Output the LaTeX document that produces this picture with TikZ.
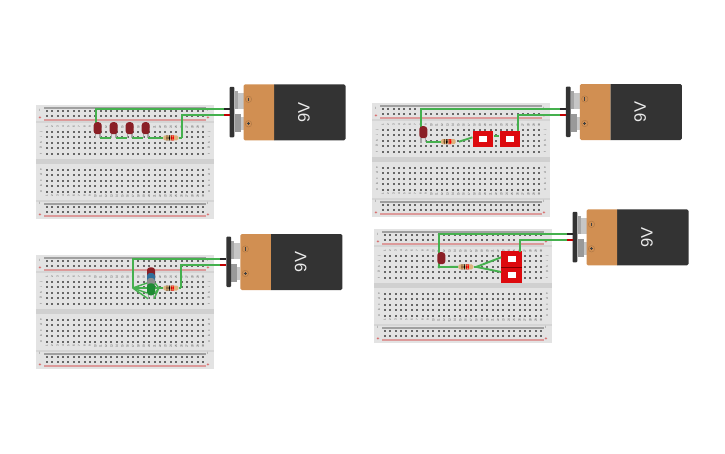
\documentclass[tikz,border=0pt]{standalone}
\usepackage{fontspec}
\setmainfont{Liberation Sans}
\definecolor{boardgrey}{HTML}{E3E3E3}
\definecolor{bandgrey}{HTML}{D0D0D0}
\definecolor{holegrey}{HTML}{666666}
\definecolor{railgrey}{HTML}{A0A0A0}
\definecolor{railred}{HTML}{DC9A9A}
\definecolor{wiregreen}{HTML}{45B04E}
\definecolor{ledred}{HTML}{8A1F26}
\definecolor{ledblue}{HTML}{2F6E9A}
\definecolor{ledgrey}{HTML}{8C8C8C}
\definecolor{ledgreen}{HTML}{1E8A32}
\definecolor{battorange}{HTML}{D18F52}
\definecolor{battdark}{HTML}{333333}
\definecolor{resbody}{HTML}{DDB27C}
\definecolor{dipred}{HTML}{DD0A0E}
\tikzset{
  wire/.style={draw=wiregreen,line width=1.9pt},
  thinwire/.style={draw=wiregreen,line width=1.4pt},
  leg/.style={draw=gray!70,line width=1.2pt},
  led/.style={rectangle,rounded corners=3pt,minimum width=8pt,minimum height=12pt,inner sep=0pt,fill=#1},
  resistor/.style={rectangle,rounded corners=1.5pt,minimum width=15pt,minimum height=5pt,inner sep=0pt,fill=resbody,
    path picture={
      \fill[brown!60!black] ([xshift=3pt]path picture bounding box.south west) rectangle +(1.4pt,5pt);
      \fill[black] ([xshift=5.4pt]path picture bounding box.south west) rectangle +(1.4pt,5pt);
      \fill[red!80!black] ([xshift=7.8pt]path picture bounding box.south west) rectangle +(1.2pt,5pt);
      \fill[red] ([xshift=9.2pt]path picture bounding box.south west) rectangle +(1.4pt,5pt);
    }},
  dip/.style={rectangle,minimum width=20.6pt,minimum height=16pt,inner sep=0pt,fill=dipred},
  dipwin/.style={rectangle,minimum width=8.5pt,minimum height=6pt,inner sep=0pt,fill=white},
  tinylabel/.style={inner sep=0pt,font=\fontsize{3}{3}\selectfont,text=gray!70!black},
}

% breadboard: name, left, top
\newcommand{\hbboard}[3]{
  \begin{scope}[shift={(#2,#3)}]
    \node[rectangle,minimum width=178pt,minimum height=114pt,inner sep=0pt,fill=boardgrey,anchor=north west] (#1) at (0,0) {};
    \fill[boardgrey!94!black] (0,16) rectangle (178,18);
    \fill[boardgrey!94!black] (0,95) rectangle (178,97);
    \fill[bandgrey] (0,54) rectangle (178,59);
    \fill[railgrey] (8,2) rectangle (170,4);
    \fill[railred] (8,14) rectangle (170,16);
    \fill[railgrey] (8,98) rectangle (170,100);
    \fill[railred] (8,110) rectangle (170,112);
    \foreach \row in {6,11,27,32,38,43,49,65,70,76,81,87,102,107}
      \foreach \col in {0,...,29} {
        \pgfmathsetmacro{\hx}{round(10.8+\col*5.39)-1}
        \fill[holegrey] (\hx,\row-1) rectangle +(2,2);
      }
    \foreach \col in {1,...,30} {
      \node[tinylabel,rotate=90] (#1t\col) at (5.41+\col*5.39,22) {\col};
      \node[tinylabel,rotate=90] (#1b\col) at (5.41+\col*5.39,91) {\col};
    }
    \foreach \row/\lab in {27/j,32/i,38/h,43/g,49/f,65/e,70/d,76/c,81/b,87/a} {
      \node[tinylabel,rotate=90] (#1l\lab) at (5,\row) {\lab};
      \node[tinylabel,rotate=90] (#1r\lab) at (173,\row) {\lab};
    }
    \foreach \row/\k in {5/t,98.7/b} {
      \node[inner sep=0pt,font=\fontsize{4}{4}\selectfont,text=black!70,rotate=90] (#1nl\k) at (4,\row) {--};
      \node[inner sep=0pt,font=\fontsize{4}{4}\selectfont,text=black!70,rotate=90] (#1nr\k) at (172,\row) {--};
    }
    \foreach \row/\k in {13/t,110/b} {
      \node[inner sep=0pt,font=\fontsize{5}{5}\selectfont,text=red!80!black] (#1pl\k) at (4,\row) {+};
      \node[inner sep=0pt,font=\fontsize{5}{5}\selectfont,text=red!80!black] (#1pr\k) at (172,\row) {+};
    }
  \end{scope}
}

% battery: name, left of orange part, top
\newcommand{\hbbattery}[3]{
  \begin{scope}[shift={(#2,#3)}]
    \fill[gray!45] (-9,9) rectangle (0,24.5);
    \fill[gray!70] (-9,7) rectangle (-6,24.5);
    \fill[gray!80] (-9,30) rectangle (-3,48);
    \fill[gray!45] (-3,33) rectangle (0,46);
    \fill[battdark,rounded corners=1pt] (-14,2.5) rectangle (-9.2,53);
    \fill[battdark] (30.5,0) {[rounded corners=1.5pt] -- (102,0) -- (102,56)} -- (30.5,56) -- cycle;
    \fill[battorange] (30.5,0) {[rounded corners=1.5pt] -- (0,0) -- (0,56)} -- (30.5,56) -- cycle;
    \draw[battorange!85!black,line width=.5pt] (5,15) circle [radius=3.2];
    \draw[battorange!85!black,line width=.5pt] (5,39.5) circle [radius=3.2];
    \draw[black!75,line width=.8pt] (5,13.4) -- (5,16.6);
    \draw[black!75,line width=.8pt] (3.4,39.5) -- (6.6,39.5) (5,37.9) -- (5,41.1);
    \node[text=white!92!black,font=\fontsize{16.5}{16.5}\selectfont,rotate=90,inner sep=0pt] (#1text) at (60.5,28) {9V};
    \coordinate (#1neg) at (-20,25);
    \coordinate (#1pos) at (-20,30.7);
    \draw[black!85,line width=2pt] (-20,25) -- (-14,25);
    \draw[red!75!black,line width=2pt] (-20,30.7) -- (-14,30.7);
  \end{scope}
}

\begin{document}
\begin{tikzpicture}[x=1pt,y=-1pt]
  \path[use as bounding box,fill=white] (0,0) rectangle (725,453);

  \hbboard{bbA}{36}{105}
  \hbboard{bbB}{36}{255}
  \hbboard{bbC}{372}{103}
  \hbboard{bbD}{374}{229}
  \hbbattery{batA}{243.5}{84.3}
  \hbbattery{batB}{240.3}{234}
  \hbbattery{batC}{579.8}{84}
  \hbbattery{batD}{586.5}{209.3}

  % four leds in a row
  \coordinate (a0) at (95.9,124);
  \coordinate (a1) at (181.9,137.8);
  \draw[wire] (a0) |- (batAneg);
  \draw[wire] (a1) |- (batApos);
  \foreach \i/\px in {1/97.7,2/113.7,3/129.7,4/145.7} {
    \coordinate (lega\i) at (\px-2.3,137.8);
    \coordinate (legb\i) at (\px+2.3,137.8);
    \draw[leg] (lega\i) -- +(0,-6);
    \draw[leg] (legb\i) -- +(0,-6);
  }
  \foreach \i/\px in {1/97.7,2/113.7,3/129.7,4/145.7}
    \node[led=ledred] (ledA\i) at (\px,128.2) {};
  \node[resistor] (resA) at (170.8,137.8) {};
  \draw[wire] (legb1) -- (lega2);
  \draw[wire] (legb2) -- (lega3);
  \draw[wire] (legb3) -- (lega4);
  \draw[wire] (legb4) -- (resA.west);
  \draw[wire] (resA.east) -- (a1);

  % stacked leds
  \coordinate (b0) at (132.7,288);
  \coordinate (b1) at (181,288);
  \draw[wire] (b0) |- (batBneg);
  \draw[wire] (b1) |- (batBpos);
  \node[led=ledred] (ledB1) at (151,273.3) {};
  \node[led=ledblue] (ledB2) at (151,279) {};
  \node[led=ledgrey] (ledB3) at (151,284) {};
  \node[led=ledgreen] (ledB4) at (151,289.3) {};
  \draw[leg] (148.7,295) -- (148.7,299);
  \draw[leg] (153.5,295) -- (153.5,299);
  \coordinate (b2) at (159,288);
  \foreach \py in {283,288,293} {
    \draw[thinwire] (b0) -- (147,\py);
    \draw[thinwire] (155,\py) -- (b2);
  }
  \draw[thinwire] (b0) -- (148,298.7);
  \draw[thinwire] (154,298.7) -- (b2);
  \node[resistor] (resB) at (170.8,288) {};
  \draw[wire] (b2) -- (resB.west);
  \draw[wire] (resB.east) -- (b1);

  % two switches side by side
  \coordinate (c0) at (421,127);
  \draw[wire] (c0) |- (batCneg);
  \node[led=ledred] (ledC) at (423.3,132.2) {};
  \draw[leg] (421,138) -- (421,142.5);
  \draw[leg] (425.7,138) -- (425.7,141.7);
  \node[resistor] (resC) at (448.2,141.7) {};
  \node[dip] (swC1) at (483,139) {};
  \node[dip] (swC2) at (509.9,139) {};
  \node[dipwin] (winC1) at (swC1) {};
  \node[dipwin] (winC2) at (swC2) {};
  \coordinate (c1) at (426,141.7);
  \coordinate (c2) at (459,141.7);
  \draw[wire] (c1) -- (resC.west);
  \draw[wire] (c2) -- (swC1.west |- 0,137.3);
  \draw[wire] (swC1.east |- 0,136) -- (swC2.west |- 0,136);
  \draw[wire] (518,131) |- (batCpos);

  % two switches stacked
  \coordinate (d0) at (439,267);
  \draw[wire] (d0) |- (batDneg);
  \fill[wiregreen] (d0) circle [radius=1.7];
  \fill[wiregreen] (439,234.7) circle [radius=1.3];
  \node[led=ledred] (ledD) at (441.3,258.2) {};
  \node[resistor] (resD) at (465.8,266.9) {};
  \node[dip] (swD1) at (511.7,259.4) {};
  \node[dip,minimum height=15.6pt] (swD2) at (511.7,275.4) {};
  \node[dipwin] (winD1) at (512,259) {};
  \node[dipwin] (winD2) at (512,275) {};
  \draw[red!50!black,line width=.8pt] (swD1.south west) -- (swD1.south east);
  \coordinate (d1) at (476.3,266.9);
  \draw[wire] (d0) -- (resD.west);
  \draw[wire] (resD.east) -- (d1);
  \draw[wire] (d1) -- (swD1.west |- 0,257.3);
  \draw[wire] (d1) -- (swD2.west |- 0,272);
  \draw[wire] (519.7,251.5) |- (batDpos);
\end{tikzpicture}
\end{document}
